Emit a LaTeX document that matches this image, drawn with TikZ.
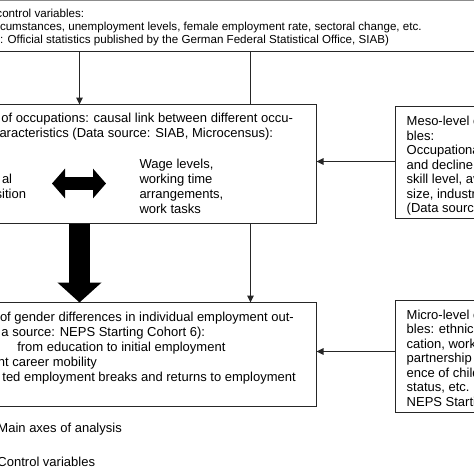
\documentclass[tikz,border=0pt]{standalone}
\usepackage{fontspec}
\setmainfont{Liberation Sans}
\usetikzlibrary{arrows.meta}
\begin{document}
\begin{tikzpicture}[x=1pt,y=-1pt,
  box/.style={draw=black!85, line width=1.25pt, fill=white, rectangle, inner sep=0pt, outer sep=0pt, anchor=north west},
  txt/.style={anchor=base west, inner sep=0pt, outer sep=0pt, font=\fontsize{13}{15}\selectfont, text=black},
  stxt/.style={txt, font=\fontsize{11.6}{13}\selectfont},
  thinarrow/.style={draw=black!85, line width=1.1pt, -{Triangle[length=7pt,width=6.5pt]}},
  fatarrow/.style={draw=black, line width=21pt, -{Triangle[length=20pt,width=43pt]}},
  dblarrow/.style={draw=black, line width=13pt, {Triangle[length=13pt,width=29pt]}-{Triangle[length=13pt,width=29pt]}}
]
\clip (0,0) rectangle (474,474);
\fill[white] (0,0) rectangle (474,474);
% boxes
\node[box, draw=black!45, minimum width=494pt, minimum height=51pt] (macro) at (-10,0.5) {};
\draw[draw=black!85, line width=1.25pt] (macro.south west) -- (macro.south east);
\node[box, minimum width=326.5pt, minimum height=104pt] (gen) at (-10,302.5) {};
\node[box, minimum width=90pt, minimum height=111.6pt] (meso) at (395.5,106.7) {};
\node[box, minimum width=90pt, minimum height=112pt] (micro) at (395.5,300.7) {};
% helper coordinates
\coordinate (xa) at (79.5,0);
\coordinate (xb) at (250.5,0);
\coordinate (ya) at (0,161.5);
\coordinate (yb) at (0,351.5);
% long line from macro to gen (behind occ box)
\draw[thinarrow] (macro.south -| xb) -- (gen.north -| xb);
\node[box, minimum width=326.5pt, minimum height=119pt] (occ) at (-10,104.5) {};
% connectors
\draw[thinarrow] (macro.south -| xa) -- (occ.north -| xa);
\draw[fatarrow] (occ.south -| xa) -- (gen.north -| xa);
\draw[thinarrow] (meso.west |- ya) -- (occ.east |- ya);
\draw[thinarrow] (micro.west |- yb) -- (gen.east |- yb);
% top texts
\node[stxt] (t1) at (-3.5,17.5) {control variables:};
\node[stxt] (t2) at (0,30.5) {cumstances, unemployment levels, female employment rate, sectoral change, etc.};
\node[stxt] (t3) at (0.2,43.5) {: Official statistics published by the German Federal Statistical Office, SIAB)};
% occupation box texts
\node[txt] (o1) at (1.5,122.3) {of occupations: causal link between different occu-};
\node[txt] (o2) at (-0.5,137.3) {aracteristics (Data source: SIAB, Microcensus):};
\node[txt] (o3) at (2,183.5) {al};
\node[txt] (o4) at (-4.3,198.5) {sition};
\node[txt] (w1) at (139.5,168.3) {Wage levels,};
\node[txt] (w2) at (139.5,183.3) {working time};
\node[txt] (w3) at (139.5,198.3) {arrangements,};
\node[txt] (w4) at (139.5,213.3) {work tasks};
\coordinate (dl) at (52,183.5);
\coordinate (dr) at (106,183.5);
\draw[dblarrow] (dl) -- (dr);
% gender box texts
\node[txt] (g1) at (0,321) {of gender differences in individual employment out-};
\node[txt] (g2) at (1.5,336) {a source: NEPS Starting Cohort 6):};
\node[txt] (g3) at (17.3,351) {from education to initial employment};
\node[txt] (g4) at (-2,366) {nt career mobility};
\node[txt] (g5) at (2.4,381) {ted employment breaks and returns to employment};
% legend
\node[txt] (l1) at (-2.5,432.7) {Main axes of analysis};
\node[txt] (l2) at (-2.5,466) {Control variables};
% meso texts
\node[txt] (m1) at (406.7,125.5) {Meso-level co};
\node[txt] (m2) at (406.7,140) {bles:};
\node[txt] (m3) at (406.7,154.5) {Occupational};
\node[txt] (m4) at (406.7,169) {and decline,};
\node[txt] (m5) at (406.7,183.5) {skill level, av};
\node[txt] (m6) at (406.7,198) {size, industry};
\node[txt] (m7) at (406.7,212.5) {(Data source};
% micro texts
\node[txt] (n1) at (406.7,319) {Micro-level co};
\node[txt] (n2) at (406.7,333.5) {bles: ethnicity};
\node[txt] (n3) at (406.7,348) {cation, work};
\node[txt] (n4) at (406.7,362.5) {partnership h};
\node[txt] (n5) at (406.7,377) {ence of child};
\node[txt] (n6) at (406.7,391.5) {status, etc. (D};
\node[txt] (n7) at (406.7,406) {NEPS Startin};
\end{tikzpicture}
\end{document}
